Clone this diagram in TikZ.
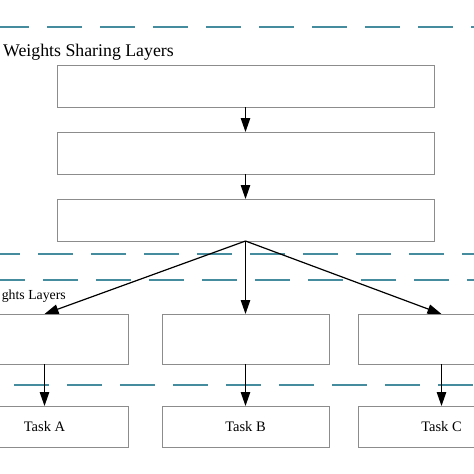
\documentclass[tikz,border=0pt]{standalone}
\usepackage{fontspec}
\setmainfont{Liberation Serif}
\usetikzlibrary{arrows.meta}
\definecolor{dashteal}{HTML}{448C9E}
\definecolor{boxgray}{HTML}{8C8C8C}
\begin{document}
\begin{tikzpicture}[x=1pt,y=-1pt,
  layerbox/.style={draw=boxgray,line width=1pt,inner sep=0pt,outer sep=0pt,minimum width=377pt,minimum height=42pt},
  rowbox/.style={draw=boxgray,line width=1pt,inner sep=0pt,outer sep=0pt,minimum width=167pt,minimum height=50pt},
  taskbox/.style={draw=boxgray,line width=1pt,inner sep=0pt,outer sep=0pt,minimum width=167pt,minimum height=41pt,font=\fontsize{14.5}{16}\selectfont},
  flow/.style={draw=black,line width=1.2pt,-{Triangle[length=14pt,width=9.5pt]}},
  sep/.style={draw=dashteal,line width=2.6pt,dash pattern=on 35pt off 18pt},
  lbl/.style={inner sep=0pt}
]
\useasboundingbox (0,0) rectangle (474,474);
\clip (0,0) rectangle (474,474);
\fill[white] (0,0) rectangle (474,474);
% dashed separators
\draw[sep] (-6,27) -- (490,27);
\draw[sep] (-15,254) -- (490,254);
\draw[sep] (-10,280) -- (490,280);
\draw[sep] (14,385) -- (490,385);
% labels
\node[lbl,anchor=base west,font=\fontsize{17.8}{20}\selectfont] (lshared) at (3,56) {Weights Sharing Layers};
\node[lbl,anchor=base east,font=\fontsize{13.8}{16}\selectfont] (lspec) at (66,299) {ghts Layers};
% shared boxes
\node[layerbox] (b1) at (245.5,86) {};
\node[layerbox] (b2) at (245.5,153) {};
\node[layerbox] (b3) at (245.5,220) {};
% specific boxes
\node[rowbox] (rA) at (44.5,339) {};
\node[rowbox] (rB) at (245.5,339) {};
\node[rowbox] (rC) at (441.5,339) {};
% task boxes
\node[taskbox] (tA) at (44.5,426.5) {Task A};
\node[taskbox] (tB) at (245.5,426.5) {Task B};
\node[taskbox] (tC) at (441.5,426.5) {Task C};
% connectors
\draw[flow] (b1.south) -- (b2.north);
\draw[flow] (b2.south) -- (b3.north);
\draw[flow] (b3.south) -- (rA.north);
\draw[flow] (b3.south) -- (rB.north);
\draw[flow] (b3.south) -- (rC.north);
\draw[flow] (rA.south) -- (tA.north);
\draw[flow] (rB.south) -- (tB.north);
\draw[flow] (rC.south) -- (tC.north);
\end{tikzpicture}
\end{document}
